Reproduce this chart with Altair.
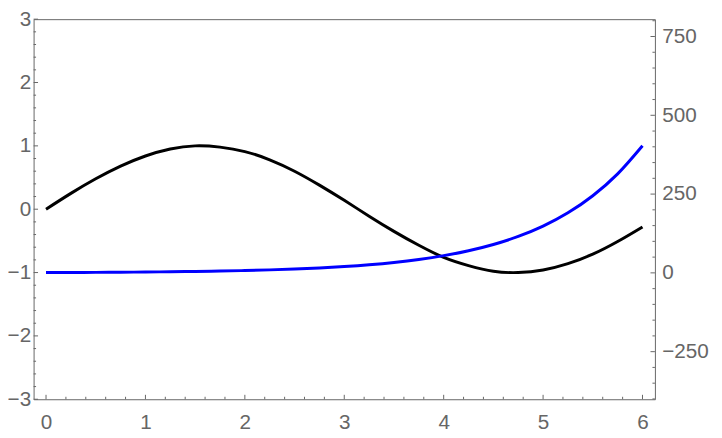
import altair as alt
import pandas as pd

# Curve samples
xs = [0, 0.25, 0.5, 0.75, 1, 1.25, 1.5, 1.75, 2, 2.25, 2.5, 2.75, 3,
      3.25, 3.5, 3.75, 4, 4.25, 4.5, 4.75, 5, 5.25, 5.5, 5.75, 6]
black_vals = [0, 0.25, 0.48, 0.68, 0.84, 0.95, 1.00, 0.98, 0.91, 0.78, 0.60, 0.38, 0.14,
              -0.11, -0.35, -0.57, -0.76, -0.89, -0.98, -1.00, -0.96, -0.86, -0.71, -0.51, -0.28]
blue_vals = [1, 1.3, 1.6, 2.1, 2.7, 3.5, 4.5, 5.8, 7.4, 9.5, 12.2, 15.6, 20.1,
             25.8, 33.1, 42.5, 54.6, 70.1, 90.0, 115.6, 148.4, 190.6, 244.7, 314.2, 403.4]

# Axis tick labels / tick positions
x_major = [0, 1, 2, 3, 4, 5, 6]
x_minor = [round(i * 0.2, 1) for i in range(0, 31) if i % 5 != 0]
left_major = [-3, -2, -1, 0, 1, 2, 3]
left_minor = [round(i * 0.2, 1) for i in range(-14, 15) if i % 5 != 0]
right_major = [-250, 0, 250, 500, 750]
right_minor = [v for v in range(-400, 801, 50) if v % 250 != 0]

X_DOM = [-0.125, 6.125]
L_DOM = [-3, 3]
R_DOM = [-401, 805]
W, H = 631, 386
GRAY = "#666666"
FONT = "Liberation Sans"
FS = 21
MINUS = "replace(datum.label, '-', '\u2212')"

curves = pd.DataFrame({"x": xs, "black": black_vals, "blue": blue_vals})

xscale = alt.Scale(domain=X_DOM, nice=False, zero=False)
x_axis = alt.Axis(values=x_major, format="d", ticks=False, domain=False, grid=False,
                  title=None, labelFont=FONT, labelFontSize=FS, labelColor=GRAY,
                  labelPadding=13)

black = alt.Chart(curves).mark_line(color="#000000", strokeWidth=3, interpolate="natural").encode(
    x=alt.X("x:Q", scale=xscale, axis=x_axis),
    y=alt.Y("black:Q", scale=alt.Scale(domain=L_DOM, nice=False, zero=False),
            axis=alt.Axis(orient="left", values=left_major, format="d", ticks=False, domain=False,
                          grid=False, title=None, labelFont=FONT, labelFontSize=FS,
                          labelColor=GRAY, labelPadding=3, labelExpr=MINUS)),
)

blue = alt.Chart(curves).mark_line(color="#0000ff", strokeWidth=3, interpolate="monotone").encode(
    x=alt.X("x:Q", scale=xscale, axis=x_axis),
    y=alt.Y("blue:Q", scale=alt.Scale(domain=R_DOM, nice=False, zero=False),
            axis=alt.Axis(orient="right", values=right_major, format="d", ticks=False, domain=False,
                          grid=False, title=None, labelFont=FONT, labelFontSize=FS,
                          labelColor=GRAY, labelPadding=7, labelExpr=MINUS)),
)

def xticks(vals, length):
    return alt.Chart(pd.DataFrame({"x": vals})).mark_rule(color=GRAY, strokeWidth=1).encode(
        x=alt.X("x:Q", scale=xscale, axis=x_axis),
        y=alt.value(H), y2=alt.value(H - length),
    )

def yticks(vals, dom, x0, x1):
    return alt.Chart(pd.DataFrame({"v": vals})).mark_rule(color=GRAY, strokeWidth=1).encode(
        y=alt.Y("v:Q", scale=alt.Scale(domain=dom, nice=False, zero=False), axis=None),
        x=alt.value(x0), x2=alt.value(x1),
    )

chart = alt.layer(
    black, blue,
    xticks(x_major, 4.5), xticks(x_minor, 2.5),
    yticks(left_major, L_DOM, 0, 4.5), yticks(left_minor, L_DOM, 0, 2.5),
    yticks(right_major, R_DOM, W, W - 4.5), yticks(right_minor, R_DOM, W, W - 2.5),
).resolve_scale(y="independent").properties(
    width=W, height=H,
    autosize=alt.AutoSizeParams(type="none"),
    padding={"left": 26, "top": 8, "right": 60, "bottom": 35},
).configure_view(stroke=GRAY, strokeWidth=1)

chart.save("out.html", embed_options={"renderer": "svg", "actions": False})
